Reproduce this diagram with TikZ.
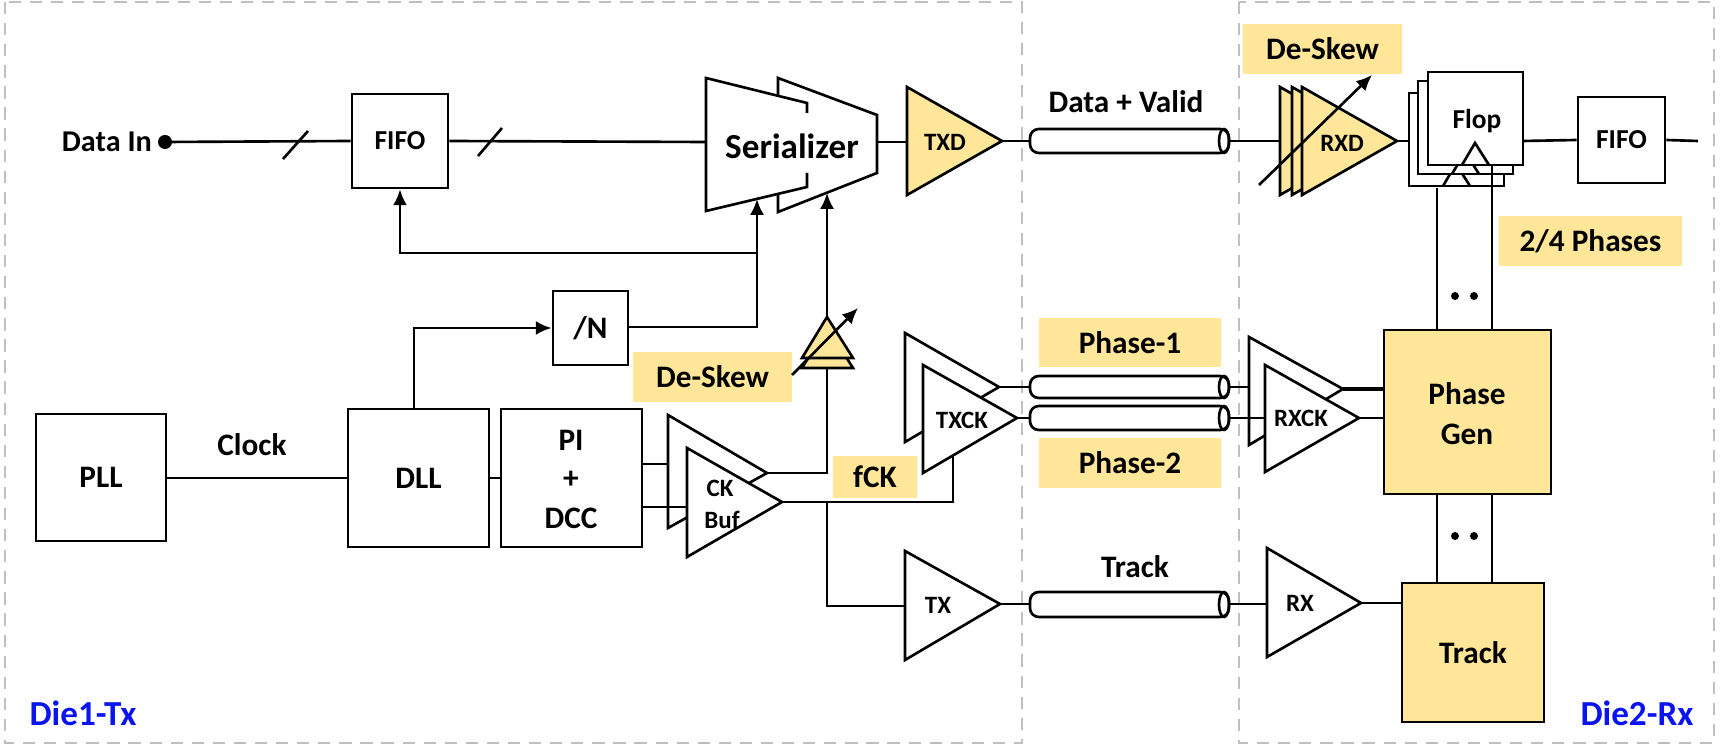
\documentclass[tikz,border=0pt]{standalone}
\usepackage{fontspec}
\setmainfont{Carlito}
\usetikzlibrary{arrows.meta,fit}
\definecolor{ylw}{HTML}{FFE699}
\definecolor{dgray}{HTML}{BFBFBF}
\definecolor{dblue}{HTML}{0A14F0}
\newcommand\fA{\fontsize{20pt}{22pt}\selectfont\bfseries}
\newcommand\fB{\fontsize{17.8pt}{20pt}\selectfont\bfseries}
\newcommand\fC{\fontsize{17.2pt}{19pt}\selectfont\bfseries}
\newcommand\fD{\fontsize{15.6pt}{18pt}\selectfont\bfseries}
\newcommand\fE{\fontsize{14.2pt}{16pt}\selectfont\bfseries}
\begin{document}
\begin{tikzpicture}[x=0.02cm,y=-0.02cm,
  ln/.style={line width=1.5pt, line join=miter},
  thick2/.style={line width=2.8pt},
  box/.style={draw, line width=1.6pt, inner sep=0pt},
  ybox/.style={box, fill=ylw},
  lab/.style={fill=ylw, inner sep=0pt},
  arr/.style={ln, -{Latex[length=9pt,width=8pt]}},
  buf/.style={ln, fill=white},
  ybuf/.style={ln, fill=ylw},
  dieline/.style={dgray, line width=1.4pt, dash pattern=on 7pt off 5pt}]
\useasboundingbox (0,0) rectangle (1722,756);
\fill[white] (0,0) rectangle (1722,756);
% die outlines
\draw[dieline] (5,2) rectangle (1022,743);
\draw[dieline] (1239,2) rectangle (1714,743);
\node[text=dblue, font=\fA] (die1) at (83,713) {Die1-Tx};
\node[text=dblue, font=\fA] (die2) at (1637,713) {Die2-Rx};

% ---------- boxes ----------
\node[box, fit={(352,94) (448,188)}] (fifo) {};
\node[font=\fD] at (fifo) {FIFO};
\node[box, fit={(553,291) (628,365)}] (divn) {};
\node[font=\fB] at (divn) {/N};
\node[box, fit={(36,414) (166,541)}] (pll) {};
\node[font=\fB] at (pll) {PLL};
\node[box, fit={(348,409) (489,547)}] (dll) {};
\node[font=\fB] at (dll) {DLL};
\node[box, fit={(501,409) (642,547)}] (pi) {};
\node[font=\fB] at (571,440) {PI};
\node[font=\fB] at (571,480) {+};
\node[font=\fB] at (571,518) {DCC};
\node[box, fit={(1578,97) (1665,183)}] (fifo2) {};
\node[font=\fD] at (fifo2) {FIFO};
\node[ybox, fit={(1384,330) (1551,494)}] (pgen) {};
\node[font=\fB] at (1467,394) {Phase};
\node[font=\fB] at (1467,434) {Gen};
\node[ybox, fit={(1402,583) (1544,722)}] (track) {};
\node[font=\fB] at (1473,653) {Track};

% ---------- labels ----------
\node[lab, fit={(633,352) (792,402)}] (dsk1) {};
\node[font=\fB] at (dsk1) {De-Skew};
\node[lab, fit={(833,456) (917,498)}] (fck) {};
\node[font=\fB] at (fck) {fCK};
\node[lab, fit={(1039,318) (1221,367)}] (ph1) {};
\node[font=\fB] at (ph1) {Phase-1};
\node[lab, fit={(1039,438) (1221,488)}] (ph2) {};
\node[font=\fB] at (ph2) {Phase-2};
\node[lab, fit={(1243,24) (1402,74)}] (dsk2) {};
\node[font=\fB] at (dsk2) {De-Skew};
\node[lab, fit={(1499,216) (1682,266)}] (ph24) {};
\node[font=\fB] at (ph24) {2/4 Phases};
\node[font=\fB] (dv) at (1126,102) {Data + Valid};
\node[font=\fB] (trk) at (1135,567) {Track};
\node[font=\fB] (clk) at (252,445) {Clock};
\node[font=\fC, anchor=east] (din) at (158,142) {Data In};

% ---------- serializer ----------
\draw[ln, fill=white] (778,78) -- (877,115) -- (877,173) -- (778,212) -- cycle;
\fill[white] (706,78) -- (807,103) -- (807,187) -- (706,211) -- cycle;
\draw[ln] (807,113) -- (807,103) -- (706,78) -- (706,211) -- (807,187) -- (807,173);
\node[font=\fA] (ser) at (792,146) {Serializer};
\coordinate (serin) at (706,142);
\coordinate (serout) at (877,142);
\coordinate (serclk1) at (757,199);
\coordinate (serclk2) at (827,193);

% ---------- TXD / RXD ----------
\draw[ybuf] (907,87) -- (1002,141) -- (907,195) -- cycle;
\node[font=\fE] (txd) at (945,142) {TXD};
\foreach \lx in {1280,1292,1302}
  \draw[ybuf] (\lx,87) -- (\lx+95,141) -- (\lx,195) -- cycle;
\node[font=\fE] (rxd) at (1342,143) {RXD};
\draw[arr] (1259,185) -- (1372,75);

% ---------- flops ----------
\foreach \dx/\dy in {-19/21,-10/9,0/0}{
  \draw[ln, fill=white] (1428+\dx,72+\dy) rectangle (1523+\dx,165+\dy);
  \draw[ln] (1462+\dx,165+\dy) -- (1475+\dx,143+\dy) -- (1489+\dx,165+\dy);
}
\node[font=\fD] (flop) at (1477,121) {Flop};

% ---------- cables ----------
\foreach \yt/\yb in {129/153,376/398,406/430,592/617}{
  \draw[ln, rounded corners=5pt, fill=white] (1030,\yt) rectangle (1229,\yb);
  \draw[ln] (1224,{(\yt+\yb)/2}) ellipse (5 and {(\yb-\yt)/2});
}

% ---------- CK buffers ----------
\draw[buf] (668,415) -- (767,473) -- (668,528) -- cycle;
\draw[ln] (642,507) -- (687,507);
\draw[buf] (687,448) -- (782,502) -- (687,557) -- cycle;
\node[font=\fE] (ckb) at (720,488) {CK};
\node[font=\fE] at (722,520) {Buf};
% TXCK
\draw[buf] (905,333) -- (999,387) -- (905,442) -- cycle;
\draw[buf] (923,365) -- (1017,418) -- (923,473) -- cycle;
\node[font=\fE] (txck) at (962,420) {TXCK};
% RXCK
\draw[buf] (1249,337) -- (1343,389) -- (1249,445) -- cycle;
\draw[ln] (1229,418) -- (1265,418);
\draw[buf] (1265,365) -- (1359,418) -- (1265,472) -- cycle;
\node[font=\fE] (rxck) at (1301,418) {RXCK};
% TX / RX
\draw[buf] (905,551) -- (1000,604) -- (905,660) -- cycle;
\node[font=\fE] (tx) at (938,605) {TX};
\draw[buf] (1267,548) -- (1361,603) -- (1267,657) -- cycle;
\node[font=\fE] (rx) at (1300,603) {RX};
% deskew triangles
\draw[ybuf] (802,368) -- (827,327) -- (853,368) -- cycle;
\draw[ybuf] (802,358) -- (827,317) -- (853,358) -- cycle;
\draw[arr] (792,375) -- (858,308);

% ---------- connectors ----------
\fill (165,142) circle (7);
\draw[ln] (165,142) -- (fifo.west);
\draw[ln] (283,159) -- (308,131);
\draw[ln] (fifo.east) -- (serin);
\draw[ln] (478,156) -- (502,128);
\draw[arr] (757,253) -| (fifo.south);
\draw[arr] (divn.east |- 0,327) -| (serclk1);
\draw[ln] (serout) -- (907,142);
\draw[ln] (1002,141) -- (1030,141);
\draw[ln] (1229,141) -- (1280,141);
\draw[ln] (1397,141) -- (1409,141);
\draw[ln] (1523,141) -- (fifo2.west);
\draw[ln] (fifo2.east) -- (1698,141);
\draw[ln] (pll.east |- 0,478) -- (dll.west |- 0,478);
\draw[ln] (dll.east |- 0,478) -- (pi.west |- 0,478);
\draw[arr] (414,409) |- (divn.west |- 0,328);
\draw[ln] (642,464) -- (668,464);
\draw[ln] (767,473) -| (827,368);
\draw[arr] (827,317) -- (serclk2);
\draw[ln] (782,502) -| (953,456);
\draw[ln] (827,502) |- (905,606);
\draw[ln] (999,387) -- (1030,387);
\draw[ln] (1017,418) -- (1030,418);
\draw[ln] (1229,387) -- (1249,387);
\draw[thick2] (1343,389) -- (pgen.west |- 0,389);
\draw[ln] (1359,418) -- (pgen.west |- 0,418);
\draw[ln] (1000,604) -- (1030,604);
\draw[ln] (1229,604) -- (1267,604);
\draw[ln] (1361,603) -- (track.west |- 0,603);
\draw[ln] (1437,330) -- (1437,188);
\draw[ln] (1492,330) -- (1492,165);
\draw[ln] (1437,494) -- (1437,583);
\draw[ln] (1492,494) -- (1492,583);
\foreach \y in {296,536}{ \fill (1455,\y) circle (4); \fill (1474,\y) circle (4); }
\end{tikzpicture}
\end{document}
